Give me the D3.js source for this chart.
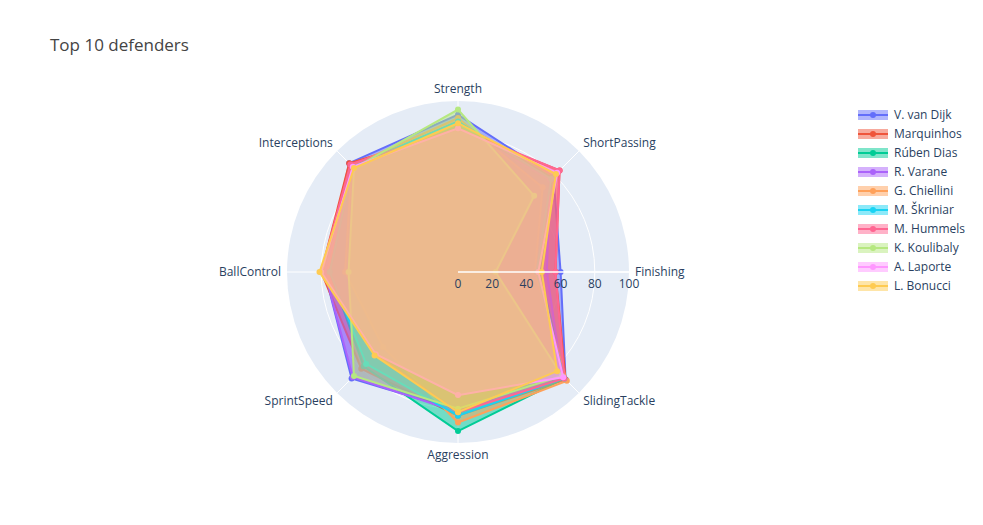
<!DOCTYPE html>
<html><head><meta charset="utf-8">
<script src="https://cdn.jsdelivr.net/npm/d3@7"></script>
<style>body{margin:0;background:#fff;font-family:"Open Sans",Arial,sans-serif}</style>
</head><body><svg id="chart" width="983" height="525"></svg>
<script>
var categories = ["Finishing", "ShortPassing", "Strength", "Interceptions", "BallControl", "SprintSpeed", "Aggression", "SlidingTackle"];
var players = ["V. van Dijk", "Marquinhos", "Rúben Dias", "R. Varane", "G. Chiellini", "M. Škriniar", "M. Hummels", "K. Koulibaly", "A. Laporte", "L. Bonucci"];
var vanDijk    = [60, 79, 92, 90, 78, 88, 81, 89];
var marquinhos = [57, 84, 83, 90, 80, 80, 84, 89];
var dias       = [48, 78, 88, 87, 75, 78, 93, 88];
var varane     = [52, 76, 85, 86, 78, 87, 82, 86];
var chiellini  = [45, 70, 90, 88, 66, 62, 88, 90];
var skriniar   = [46, 77, 88, 87, 75, 76, 84, 88];
var hummels    = [57, 84, 84, 89, 80, 68, 82, 88];
var koulibaly  = [22, 63, 95, 86, 64, 86, 80, 86];
var laporte    = [47, 82, 84, 87, 80, 68, 72, 87];
var bonucci    = [49, 81, 87, 86, 81, 69, 82, 82];
var radialTicks = [0, 20, 40, 60, 80, 100];

var series = [vanDijk, marquinhos, dias, varane, chiellini, skriniar, hummels, koulibaly, laporte, bonucci];
var colors = ["#636efa", "#EF553B", "#00cc96", "#ab63fa", "#FFA15A", "#19d3f3", "#FF6692", "#B6E880", "#FF97FF", "#FECB52"];

var svg = d3.select("#chart");
var cx = 458, cy = 272, R = 171;
var r = d3.scaleLinear().domain([0, 100]).range([0, R]);
var ang = d3.scalePoint().domain(categories.concat(["_"])).range([0, 2 * Math.PI]);
function pt(c, v) { var a = ang(c); return [cx + r(v) * Math.cos(a), cy - r(v) * Math.sin(a)]; }

svg.append("text").attr("x", 50).attr("y", 51).attr("font-size", 17).attr("fill", "#444").text("Top 10 defenders");

var g = svg.append("g");
g.append("circle").attr("cx", cx).attr("cy", cy).attr("r", R).attr("fill", "#e5ecf6");
radialTicks.slice(1, -1).forEach(function (t) {
  g.append("circle").attr("cx", cx).attr("cy", cy).attr("r", r(t)).attr("fill", "none").attr("stroke", "#fff");
});
categories.forEach(function (c) {
  var p = pt(c, 100);
  g.append("line").attr("x1", cx).attr("y1", cy).attr("x2", p[0]).attr("y2", p[1]).attr("stroke", "#fff");
});

var line = d3.line();
series.forEach(function (s, i) {
  var pts = categories.map(function (c, j) { return pt(c, s[j]); });
  g.append("path").attr("d", line(pts) + "Z").attr("fill", colors[i]).attr("fill-opacity", 0.5)
    .attr("stroke", colors[i]).attr("stroke-width", 2);
  pts.forEach(function (p) {
    g.append("circle").attr("cx", p[0]).attr("cy", p[1]).attr("r", 3).attr("fill", colors[i]);
  });
});

g.append("line").attr("x1", cx).attr("y1", cy).attr("x2", cx + R).attr("y2", cy).attr("stroke", "#fff").attr("stroke-width", 1.5);
radialTicks.forEach(function (t) {
  g.append("text").attr("x", cx + r(t)).attr("y", cy + 16).attr("text-anchor", "middle")
    .attr("font-size", 12).attr("fill", "#2a3f5f").text(t);
});
categories.forEach(function (c) {
  var a = ang(c), p = pt(c, 100), ca = Math.cos(a), sa = Math.sin(a);
  var x = p[0] + ca * 6, y = p[1] - sa * 8;
  var anchor = Math.abs(ca) < 0.1 ? "middle" : (ca > 0 ? "start" : "end");
  g.append("text").attr("x", x).attr("y", y + 4 - sa * 4).attr("text-anchor", anchor)
    .attr("font-size", 12).attr("fill", "#2a3f5f").text(c);
});

var leg = svg.append("g").attr("transform", "translate(858,115)");
players.forEach(function (n, i) {
  var row = leg.append("g").attr("transform", "translate(0," + i * 19 + ")");
  row.append("rect").attr("x", 0).attr("y", -5).attr("width", 30).attr("height", 10)
    .attr("fill", colors[i]).attr("fill-opacity", 0.5);
  row.append("line").attr("x1", 0).attr("x2", 30).attr("y1", 0).attr("y2", 0)
    .attr("stroke", colors[i]).attr("stroke-width", 2);
  row.append("circle").attr("cx", 15).attr("cy", 0).attr("r", 3).attr("fill", colors[i]);
  row.append("text").attr("x", 36).attr("y", 4).attr("font-size", 12).attr("fill", "#2a3f5f").text(n);
});
</script></body></html>
